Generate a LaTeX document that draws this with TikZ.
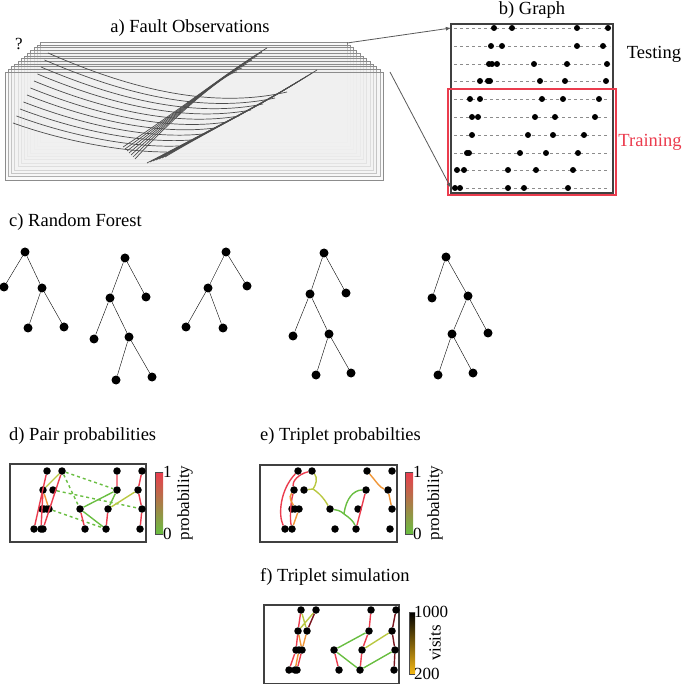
\documentclass[tikz,border=0pt]{standalone}
\usepackage{fontspec}
\setmainfont{Liberation Serif}
\usetikzlibrary{positioning}
\definecolor{pred}{RGB}{235,60,78}
\definecolor{porange}{RGB}{240,150,55}
\definecolor{pyell}{RGB}{185,200,65}
\definecolor{pgreen}{RGB}{105,190,65}
\definecolor{vdark}{RGB}{120,20,30}
\definecolor{vyell}{RGB}{245,185,20}

\begin{document}
\begin{tikzpicture}[x=1pt, y=-1pt,
                    dot/.style={circle, fill=black, inner sep=0pt, minimum size=7.5pt},
                    tdot/.style={circle, fill=black, inner sep=0pt, minimum size=9pt},
                    title/.style={font=\fontsize{18.5}{20}\selectfont, inner sep=0pt},
                    small/.style={font=\fontsize{17}{19}\selectfont, inner sep=1pt},
                    panel/.style={draw=black!75, line width=1.3pt},
                    edge/.style={line width=1.4pt},
                    fault/.style={black!70, line width=0.7pt}]
  \useasboundingbox (0,0) rectangle (685,684);

  % a) fault observations
  \node[title] (ta) at (190,28) {a) Fault Observations};
  \foreach \k in {11,10,...,0}
    \draw[black!45, fill=black!6, fill opacity=0.35] (5+3.2*\k,72-2.7*\k) rectangle (383-3.3*\k,180-3.4*\k);
  \foreach \i in {0,...,10}
    \draw[fault] (13+3.5*\i,123-7*\i) .. controls (60+5*\i,140-6*\i) and (120+8*\i,152-4*\i) .. (167+12*\i,152-6*\i);
  \foreach \i in {0,...,6}{
    \draw[fault] (123+2*\i,147+2*\i) .. controls (180,110) and (230,70) .. (267-5*\i,48+4*\i);
    \draw[fault] (147+3*\i,163-\i) .. controls (210,130) and (270,100) .. (317-5*\i,70+3*\i);
  }
  \node[small] (qm) at (19,44) {?};
  \coordinate (aback) at (347,43);
  \coordinate (afront) at (390,72);

  % b) graph
  \node[title, anchor=north] (tb) at (532,1) {b) Graph};
  \draw[panel] (451,24) rectangle (613,193);
  \coordinate (gtop) at (451,28);
  \coordinate (gbot) at (451,188);
  \foreach \y [count=\r] in {28,46,64,81,99,117,135,153,170,188}
    \draw[black!45, dashed] (454,\y) -- (610,\y);
  \foreach \y/\xs [count=\r] in {28/{494,512,577,608}, 46/{491,502,577,603},
      64/{489,492,497,534,567,607}, 81/{480,488,490,540,565,606},
      99/{470,480,542,563,599}, 117/{472,478,535,555,595},
      135/{472,528,553,584}, 153/{467,469,520,546,578},
      170/{457,464,508,536,573}, 188/{455,460,508,524,568}}
    \foreach \x [count=\c] in \xs
      \node[dot, minimum size=6pt] (g\r-\c) at (\x,\y) {};
  \draw[pred, line width=1.2pt] (448,89) rectangle (616,195);
  \node[title] (test) at (654,54) {Testing};
  \node[title, text=pred] (train) at (650,142) {Training};
  \draw[black!65, line width=0.8pt, -latex] (aback) -- (gtop);
  \draw[black!65, line width=0.8pt, -latex] (afront) -- (gbot);

  % c) random forest
  \node[title, anchor=west] (tc) at (9,222) {c) Random Forest};
  \node[tdot] (t1r) at (25,252) {};  \node[tdot] (t1a) at (4,287) {};
  \node[tdot] (t1m) at (42,288) {};  \node[tdot] (t1b) at (28,328) {};
  \node[tdot] (t1c) at (64,327) {};
  \draw (t1r) -- (t1a) (t1r) -- (t1m) (t1m) -- (t1b) (t1m) -- (t1c);
  \node[tdot] (t2r) at (125,258) {}; \node[tdot] (t2a) at (146,297) {};
  \node[tdot] (t2m) at (110,298) {}; \node[tdot] (t2b) at (94,339) {};
  \node[tdot] (t2n) at (129,337) {}; \node[tdot] (t2c) at (116,380) {};
  \node[tdot] (t2d) at (152,377) {};
  \draw (t2r) -- (t2a) (t2r) -- (t2m) (t2m) -- (t2b) (t2m) -- (t2n) (t2n) -- (t2c) (t2n) -- (t2d);
  \node[tdot] (t3r) at (226,252) {}; \node[tdot] (t3a) at (247,286) {};
  \node[tdot] (t3m) at (208,288) {}; \node[tdot] (t3b) at (186,327) {};
  \node[tdot] (t3c) at (223,328) {};
  \draw (t3r) -- (t3a) (t3r) -- (t3m) (t3m) -- (t3b) (t3m) -- (t3c);
  \node[tdot] (t4r) at (324,253) {}; \node[tdot] (t4a) at (346,293) {};
  \node[tdot] (t4m) at (310,294) {}; \node[tdot] (t4b) at (293,336) {};
  \node[tdot] (t4n) at (329,334) {}; \node[tdot] (t4c) at (316,375) {};
  \node[tdot] (t4d) at (351,373) {};
  \draw (t4r) -- (t4a) (t4r) -- (t4m) (t4m) -- (t4b) (t4m) -- (t4n) (t4n) -- (t4c) (t4n) -- (t4d);
  \node[tdot] (t5r) at (446,257) {}; \node[tdot] (t5a) at (432,298) {};
  \node[tdot] (t5m) at (468,296) {}; \node[tdot] (t5n) at (452,334) {};
  \node[tdot] (t5b) at (488,333) {}; \node[tdot] (t5c) at (438,375) {};
  \node[tdot] (t5d) at (473,373) {};
  \draw (t5r) -- (t5a) (t5r) -- (t5m) (t5m) -- (t5n) (t5m) -- (t5b) (t5n) -- (t5c) (t5n) -- (t5d);

  % d) pair probabilities
  \node[title, anchor=west] (td) at (9,436) {d) Pair probabilities};
  \draw[panel] (10,464) rectangle (146,542);
  \foreach \y/\xs [count=\r] in {471/{47,62,117,142}, 490/{43,53,117,138},
      509/{42,44,47,49,80,108,142}, 529/{34,41,43,85,106,140}}
    \foreach \x [count=\c] in \xs
      \node[dot] (pa\r-\c) at (\x,\y) {};
  \draw[edge, pgreen, dashed] (pa1-2) -- (pa2-3) (pa1-2) -- (pa3-5) (pa2-2) -- (pa3-7) (pa3-4) -- (pa4-5);
  \draw[edge, pgreen] (pa3-5) -- (pa2-3) (pa2-3) -- (pa3-6) (pa3-5) -- (pa4-5);
  \draw[edge, pyell] (pa3-6) -- (pa2-4) (pa1-2) -- (pa2-1);
  \draw[edge, porange] (pa2-1) -- (pa3-4);
  \draw[edge, pred] (pa4-1) -- (pa1-1) (pa4-2) -- (pa2-1) (pa4-3) -- (pa1-2) (pa1-3) -- (pa2-3)
    (pa1-4) -- (pa2-4) (pa2-4) -- (pa3-7) (pa3-7) -- (pa4-6) (pa3-6) -- (pa4-5) (pa3-5) -- (pa4-4);
  \shade[top color=pred, middle color=porange, bottom color=pgreen] (155,472) rectangle (163,534);
  \draw[black!70] (163,472) -- (155,472) -- (155,534) -- (163,534);
  \node[small, anchor=west] (d1) at (162,472) {1};
  \node[small, anchor=west] (d0) at (162,534) {0};
  \node[small, rotate=90] (dl) at (185,503) {probability};

  % e) triplet probabilities
  \node[title, anchor=west] (te) at (260,436) {e) Triplet probabilties};
  \draw[panel] (260,465) rectangle (397,542);
  \foreach \y/\xs [count=\r] in {471/{298,312,367,392}, 490/{294,304,366,388},
      509/{292,295,299,330,358,392}, 529/{285,292,335,356,390}}
    \foreach \x [count=\c] in \xs
      \node[dot] (pb\r-\c) at (\x,\y) {};
  \coordinate (ja) at (313,489);
  \coordinate (jb) at (344,514);
  \draw[edge, pred] (pb1-1) .. controls (280,490) and (278,515) .. (pb4-1);
  \draw[edge, pred] (pb1-2) .. controls (298,474) and (292,482) .. (pb2-1);
  \draw[edge, pred] (pb2-1) .. controls (290,505) and (290,520) .. (pb4-2);
  \draw[edge, porange] (pb2-1) .. controls (288,498) and (292,502) .. (pb3-2) (pb3-3) -- (pb4-2);
  \draw[edge, pyell] (pb1-2) .. controls (318,478) and (316,485) .. (ja) (ja) -- (pb2-2)
    (ja) .. controls (322,495) and (326,502) .. (pb3-4);
  \draw[edge, pgreen] (pb3-4) .. controls (336,510) and (340,510) .. (jb)
    (jb) .. controls (346,498) and (354,490) .. (pb2-3) (jb) .. controls (350,518) and (354,522) .. (pb4-4);
  \draw[edge, pred] (pb2-3) -- (pb4-4);
  \draw[edge, porange] (pb1-3) .. controls (375,480) and (380,488) .. (pb2-4) (pb2-4) -- (pb3-6);
  \shade[top color=pred, middle color=porange, bottom color=pgreen] (405,472) rectangle (413,534);
  \draw[black!70] (413,472) -- (405,472) -- (405,534) -- (413,534);
  \node[small, anchor=west] (e1) at (412,472) {1};
  \node[small, anchor=west] (e0) at (412,534) {0};
  \node[small, rotate=90] (el) at (435,503) {probability};

  % f) triplet simulation
  \node[title, anchor=west] (tf) at (260,577) {f) Triplet simulation};
  \draw[panel] (264,605) rectangle (399,684);
  \foreach \y/\xs [count=\r] in {610/{301,316,371,396}, 631/{298,307,369,392},
      650/{296,299,302,334,362,395}, 670/{289,295,297,339,360,394}}
    \foreach \x [count=\c] in \xs
      \node[dot] (pc\r-\c) at (\x,\y) {};
  \draw[edge, pgreen] (pc3-4) -- (pc2-3) (pc4-5) -- (pc3-6) (pc3-4) -- (pc4-5);
  \draw[edge, pyell] (pc1-1) -- (pc2-2) (pc3-5) -- (pc2-4) (pc2-1) -- (pc1-2);
  \draw[edge, porange] (pc2-2) -- (pc3-3) (pc3-2) -- (pc4-2) (pc2-1) -- (pc3-3);
  \draw[edge, pred] (pc1-1) -- (pc2-1) (pc2-1) -- (pc3-1) (pc3-1) -- (pc4-1) (pc3-3) -- (pc4-3)
    (pc1-3) -- (pc2-3) (pc2-3) -- (pc3-5) (pc3-5) -- (pc4-5) (pc3-4) -- (pc4-4);
  \draw[edge, vdark] (pc1-2) -- (pc2-2) (pc1-4) -- (pc2-4) (pc2-4) -- (pc3-6) (pc3-6) -- (pc4-6);
  \shade[top color=black, middle color=red!85!black, bottom color=vyell] (409,612) rectangle (415,674);
  \draw[black!70] (415,612) -- (409,612) -- (409,674) -- (415,674);
  \node[small, anchor=west] (f1) at (413,612) {1000};
  \node[small, anchor=base west] (f0) at (413,679) {200};
  \node[small, rotate=90] (fl) at (435,643) {visits};
\end{tikzpicture}
\end{document}
